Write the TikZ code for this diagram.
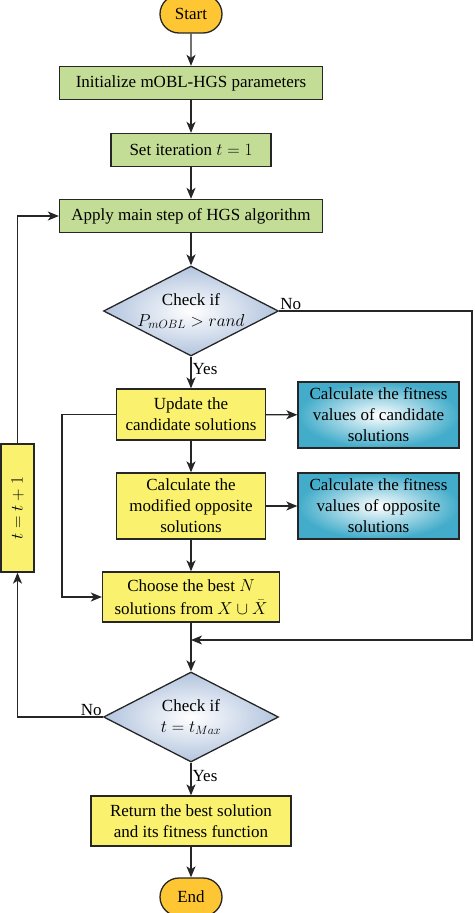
\documentclass[tikz,border=0pt]{standalone}
\usepackage{fontspec}
\usepackage{graphicx}
\setmainfont{Liberation Serif}
\usetikzlibrary{shapes.geometric,shapes.misc,arrows.meta}

\definecolor{termgold}{RGB}{255,198,52}
\definecolor{initgreen}{RGB}{196,221,150}
\definecolor{stepyellow}{RGB}{250,242,110}
\definecolor{checkblue}{RGB}{178,196,222}
\definecolor{fitteal}{RGB}{66,172,202}

\tikzset{
  base/.style={draw=black!85, line width=1.3pt, inner sep=2pt, align=center,
    font=\fontsize{17}{21}\selectfont},
  term/.style={base, rounded rectangle, fill=termgold, minimum width=66, minimum height=38},
  initbox/.style={base, rectangle, fill=initgreen, minimum height=33},
  stepbox/.style={base, rectangle, fill=stepyellow},
  fitbox/.style={base, rectangle, shading=radial, inner color=white, outer color=fitteal,
    minimum width=161, minimum height=66},
  checkbox/.style={base, diamond, inner sep=-8pt, aspect=1.94, shading=radial,
    inner color=white, outer color=checkblue, minimum width=175, minimum height=90},
  arr/.style={line width=1.3pt, draw=black!85, -{Stealth[length=11pt,width=9pt,inset=3pt]}},
  lbl/.style={font=\fontsize{17}{21}\selectfont, inner sep=1pt}
}

\begin{document}
\begin{tikzpicture}[x=1pt,y=-1pt]
  \useasboundingbox (0,0) rectangle (474,913);

  % main column
  \node[term] (start) at (191,14) {Start};
  \node[initbox, minimum width=263] (init) at (191,83) {Initialize mOBL-HGS parameters};
  \node[initbox, minimum width=160] (setit) at (191,150) {Set iteration $t=1$};
  \node[initbox, minimum width=263] (apply) at (191,216) {Apply main step of HGS algorithm};
  \node[checkbox] (chk1) at (191,311) {Check if\\$P_{mOBL}>rand$};
  \node[stepbox, minimum width=149, minimum height=51] (upd) at (191,414.5) {Update the\\candidate solutions};
  \node[stepbox, minimum width=149, minimum height=66] (opp) at (191,506) {Calculate the\\modified opposite\\solutions};
  \node[stepbox, minimum width=177, minimum height=50, font=\fontsize{17}{23}\selectfont] (best) at (191,597) {Choose the best $N$\\solutions from $X\cup\bar{X}$};
  \node[checkbox] (chk2) at (191,717) {Check if\\$t=t_{Max}$};
  \node[stepbox, minimum width=200, minimum height=50] (ret) at (191,821) {Return the best solution\\and its fitness function};
  \node[term] (stop) at (191,897) {End};

  % side boxes
  \node[fitbox] (fitc) at (378.5,415) {Calculate the fitness\\values of candidate\\solutions};
  \node[fitbox] (fito) at (378.5,506) {Calculate the fitness\\values of opposite\\solutions};
  \node[stepbox, minimum width=33, minimum height=128, inner sep=0pt] (inc) at (17.5,508) {\rotatebox{90}{$t=t+1$}};

  \coordinate (nocorner) at (472,640);
  \coordinate (merge) at (191,640);

  % connectors
  \draw[arr] (start) -- (init);
  \draw[arr] (init) -- (setit);
  \draw[arr] (setit) -- (apply);
  \draw[arr] (apply) -- (chk1);
  \draw[arr] (chk1) -- node[lbl, right, pos=0.4] {Yes} (upd);
  \draw[arr] (upd) -- (opp);
  \draw[arr] (opp) -- (best);
  \draw[arr] (best) -- (chk2);
  \draw[arr] (chk2) -- node[lbl, right, pos=0.4] {Yes} (ret);
  \draw[arr] (ret) -- (stop);
  \draw[arr] (upd) -- (fitc);
  \draw[arr] (opp) -- (fito);
  \draw[arr] (upd.west) -- ++(-54,0) |- (best.west);
  \draw[arr] (chk1.east) -| (nocorner) -- (merge);
  \node[lbl, above right] at (chk1.east) {No};
  \draw[arr] (chk2.west) -| (inc.south);
  \node[lbl, above left] at (chk2.west) {No};
  \draw[arr] (inc.north) |- (apply.west);
\end{tikzpicture}
\end{document}
